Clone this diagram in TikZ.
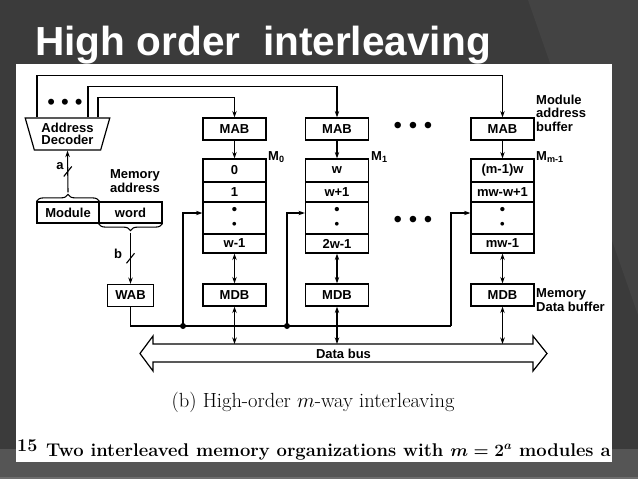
\documentclass[tikz,border=0pt]{standalone}
\usepackage{fontspec}
\setsansfont{Liberation Sans}
\usepackage{amsmath}
\usetikzlibrary{calc,shapes,arrows.meta,decorations.pathreplacing}
\usepackage{xcolor}
\definecolor{slide}{HTML}{3B3B3B}
\definecolor{slidelight}{HTML}{434343}
\definecolor{slideband}{HTML}{555555}
\definecolor{slideedge}{HTML}{6E6E6E}

\newcommand{\diagfont}{\sffamily\bfseries\fontsize{13}{13.5}\selectfont}
\newcommand{\dotcol}{\fontsize{15}{11}\selectfont •\\•}

\tikzset{
  buf/.style={draw, line width=1.2pt, minimum width=63pt, minimum height=22pt, inner sep=0pt, font=\diagfont},
  cell/.style={draw, line width=1.2pt, minimum width=63pt, inner sep=0pt, font=\diagfont, align=center},
  lbl/.style={anchor=west, inner sep=0pt, font=\diagfont, align=left},
  link/.style={line width=1.1pt},
}

\begin{document}
\begin{tikzpicture}[x=1pt,y=-1pt,>={Stealth[length=6.5pt,width=4.5pt]}]
		\useasboundingbox (0,0) rectangle (638,479);
		% slide background
		\fill[slide] (0,0) rectangle (638,479);
		\fill[slidelight] (528,0) -- (638,0) -- (638,315) -- cycle;
		\fill[slideband] (0,449) rectangle (638,477);
		\fill[slideedge] (0,477) rectangle (638,479);
		\node [anchor=base west, inner sep=0pt, text=white, font=\sffamily\bfseries\fontsize{40.6}{40}\selectfont] (title) at (35,56) {High order~~interleaving};
		\fill[white] (16,64) rectangle (612,462);

		% decoder and address register
		\node [trapezium, draw, line width=1.2pt, shape border rotate=180, trapezium left angle=72, trapezium right angle=72, trapezium stretches=true, minimum width=85pt, minimum height=32pt, inner sep=0pt, align=center, font=\diagfont] (dec) at (67.5,134) {Address\\[-1pt]Decoder};
		\node [font=\sffamily\fontsize{22}{22}\selectfont] (dotsdec) at (65,104) {• • •};
		\node [buf, minimum width=62pt, minimum height=21pt] (mod) at (68,212.5) {Module};
		\node [buf, minimum width=63pt, minimum height=21pt] (word) at (130.5,212.5) {word};
		\node [align=center, font=\diagfont] (lmem) at (135,181) {Memory\\address};
		\node [buf, minimum width=46pt] (wab) at (130.5,295.5) {WAB};
		\draw [link, decorate, decoration={brace, amplitude=7pt}] (mod.north west) -- (mod.north east);
		\draw [link, decorate, decoration={brace, amplitude=7pt}] (word.south east) -- (word.south west);
		\coordinate (atip) at ($(mod.north)+(0,-9)$);
		\coordinate (btip) at ($(word.south)+(0,9)$);

		% module 0
		\node [buf] (mab0) at (234.5,129) {MAB};
		\node [cell, minimum height=23pt] (c00) at (234.5,170.5) {0};
		\node [cell, minimum height=20pt] (c01) at (234.5,192) {1};
		\node [cell, minimum height=32pt] (c02) at (234.5,218) {\dotcol};
		\node [cell, minimum height=19pt] (c03) at (234.5,243.5) {w-1};
		\node [buf] (mdb0) at (234.5,295) {MDB};
		\node [lbl] (lm0) at (268,157) {M\textsubscript{0}};

		% module 1
		\node [buf] (mab1) at (337,129) {MAB};
		\node [cell, minimum height=23pt] (c10) at (337,170.5) {w};
		\node [cell, minimum height=20pt] (c11) at (337,192) {w+1};
		\node [cell, minimum height=32pt] (c12) at (337,218) {\dotcol};
		\node [cell, minimum height=19pt] (c13) at (337,243.5) {2w-1};
		\node [buf] (mdb1) at (337,295) {MDB};
		\node [lbl] (lm1) at (371,157) {M\textsubscript{1}};

		% module m-1
		\node [buf] (mabm) at (502.5,129) {MAB};
		\node [cell, minimum height=23pt] (cm0) at (502.5,170.5) {(m-1)w};
		\node [cell, minimum height=20pt] (cm1) at (502.5,192) {mw-w+1};
		\node [cell, minimum height=32pt] (cm2) at (502.5,218) {\dotcol};
		\node [cell, minimum height=19pt] (cm3) at (502.5,243.5) {mw-1};
		\node [buf] (mdbm) at (502.5,295) {MDB};
		\node [lbl] (lmm) at (536,157) {M\textsubscript{m-1}};
		\node [lbl] (lmab) at (536,113) {Module\\address\\buffer};
		\node [lbl] (lmdb) at (536,300) {Memory\\Data buffer};

		\node [font=\sffamily\fontsize{24}{24}\selectfont] (dotsmab) at (413,128) {• • •};
		\node [font=\sffamily\fontsize{24}{24}\selectfont] (dotsmem) at (413,222) {• • •};

		% data bus
		\draw [line width=1.2pt] (140,353.5) -- (153,336) -- (153,344) -- (533,344) -- (533,336) -- (547,353.5) -- (533,371) -- (533,362) -- (153,362) -- (153,371) -- cycle;
		\node [font=\diagfont, inner sep=0pt] (lbus) at (343.5,353.5) {Data bus};
		\coordinate (bus) at (343.5,344);

		% module select lines
		\draw [link,->] ($(dec.north)+(-30.5,0)$) -- ++(0,-42) -| (mabm.north);
		\draw [link,->] ($(dec.north)+(20.5,0)$) -- ++(0,-31) -| (mab1.north);
		\draw [link,->] ($(dec.north)+(30.5,0)$) -- ++(0,-20) -| (mab0.north);
		\draw [link,->] (mab0) -- (c00);
		\draw [link,->] (mab1) -- (c10);
		\draw [link,->] (mabm) -- (cm0);

		% address fields
		\draw [link,->] (atip) -- (dec.south);
		\draw [link] ($(atip)!0.5!(dec.south)+(-4,5)$) -- ++(8,-10);
		\node [font=\diagfont] (la) at (60,166) {a};
		\draw [link,->] (btip) -- (wab.north);
		\draw [link] ($(btip)!0.5!(wab.north)+(-4,5)$) -- ++(8,-10);
		\node [font=\diagfont] (lb) at (118,254) {b};

		% word address lines
		\coordinate (j0) at (183,326);
		\coordinate (j1) at (287,326);
		\coordinate (j2) at (451,326);
		\draw [link] (wab.south) |- (j2);
		\draw [link,->] (j0) |- ([yshift=5pt]c02.west);
		\draw [link,->] (j1) |- ([yshift=5pt]c12.west);
		\draw [link,->] (j2) |- ([yshift=5pt]cm2.west);
		\fill (j0) circle (3pt);
		\fill (j1) circle (3pt);

		% data lines
		\draw [link,<->] (c03) -- (mdb0);
		\draw [link,<->] (c13) -- (mdb1);
		\draw [link,<->] (cm3) -- (mdbm);
		\draw [link,<->] (mdb0) -- (mdb0 |- bus);
		\draw [link,<->] (mdb1) -- (mdb1 |- bus);
		\draw [link,<->] (mdbm) -- (mdbm |- bus);

		% captions
		\node [font=\fontsize{20.5}{22}\selectfont] (cap) at (313,402) {(b) High-order $m$-way interleaving};
		\begin{scope}
			\clip (16,64) rectangle (612,462);
			\node [anchor=base west, inner sep=0pt, font=\bfseries\fontsize{18}{18}\selectfont] (fignum) at (17,451) {15};
			\node [anchor=base west, inner sep=0pt, font=\bfseries\boldmath\fontsize{18.4}{20}\selectfont] (fig) at (46,456) {Two interleaved memory organizations with $m=2^a$ modules a};
		\end{scope}
\end{tikzpicture}
\end{document}
